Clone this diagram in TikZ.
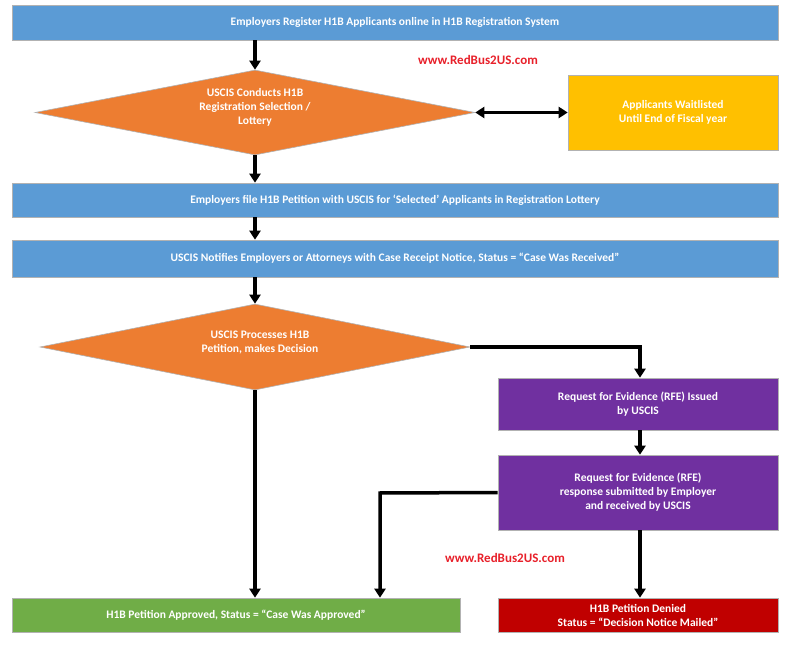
\documentclass[tikz,border=0pt]{standalone}
\usepackage{fontspec}
\setmainfont{Carlito}
\usetikzlibrary{shapes.geometric,arrows.meta}
\definecolor{cblue}{HTML}{5B9BD5}
\definecolor{corange}{HTML}{ED7D31}
\definecolor{cyellow}{HTML}{FFC000}
\definecolor{cpurple}{HTML}{7030A0}
\definecolor{cred}{HTML}{C00000}
\definecolor{cgreen}{HTML}{70AD47}
\definecolor{cwm}{HTML}{E8202A}
\begin{document}
\begin{tikzpicture}[x=1pt,y=-1pt,
  box/.style={draw=white!70!black,line width=0.6pt,text=white,font=\bfseries\fontsize{11.5}{14}\selectfont,align=center,inner sep=0pt},
  dia/.style={diamond,fill=corange,draw=white!70!black,line width=0.6pt,text=white,font=\bfseries\fontsize{11.5}{14}\selectfont,align=center,inner sep=0pt},
  con/.style={line width=3.5pt,-{Triangle[length=9pt,width=11pt]}},
  wm/.style={text=cwm,font=\bfseries\fontsize{13}{15}\selectfont}]
\useasboundingbox (0,0) rectangle (788,647);
\fill[white] (0,0) rectangle (788,647);
\node[box,fill=cblue,minimum width=766pt,minimum height=35pt] (b1) at (395,22.5) {Employers Register H1B Applicants online in H1B Registration System};
\node[dia,minimum width=440pt,minimum height=85pt] (d1) at (255,112.5) {};
\node[text=white,font=\bfseries\fontsize{11.5}{14}\selectfont,align=center] (d1t) at (255,107) {USCIS Conducts H1B\\Registration Selection /\\Lottery};
\node[box,fill=cyellow,minimum width=210pt,minimum height=75pt] (y) at (673,112.5) {Applicants Waitlisted\\Until End of Fiscal year};
\node[box,fill=cblue,minimum width=766pt,minimum height=34pt] (b2) at (395,200) {Employers file H1B Petition with USCIS for ‘Selected’ Applicants in Registration Lottery};
\node[box,fill=cblue,minimum width=766pt,minimum height=37pt] (b3) at (395,258.5) {USCIS Notifies Employers or Attorneys with Case Receipt Notice, Status = “Case Was Received”};
\node[dia,minimum width=430pt,minimum height=86pt] (d2) at (255,347) {};
\node[text=white,font=\bfseries\fontsize{11.5}{14}\selectfont,align=center] (d2t) at (260,343) {USCIS Processes H1B\\Petition, makes Decision};
\node[box,fill=cpurple,minimum width=280pt,minimum height=52pt] (p1) at (638,404) {Request for Evidence (RFE) Issued\\by USCIS};
\node[box,fill=cpurple,minimum width=280pt,minimum height=75pt] (p2) at (638,492.5) {Request for Evidence (RFE)\\response submitted by Employer\\and received by USCIS};
\node[box,fill=cred,minimum width=280pt,minimum height=34pt] (r) at (638,615) {H1B Petition Denied\\Status = “Decision Notice Mailed”};
\node[box,fill=cgreen,minimum width=448pt,minimum height=34pt] (g) at (236,615) {H1B Petition Approved, Status = “Case Was Approved"};
\node[wm] (w1) at (478,60) {www.RedBus2US.com};
\node[wm] (w2) at (505,558) {www.RedBus2US.com};
\coordinate (c1) at (640,347);
\coordinate (c2) at (380,493);
\draw[con] (b1.south -| d1) -- (d1.north);
\draw[con,{Triangle[length=9pt,width=11pt]}-{Triangle[length=9pt,width=11pt]}] (d1.east) -- (y.west);
\draw[con] (d1.south) -- (b2.north -| d1);
\draw[con] (b2.south -| d1) -- (b3.north -| d1);
\draw[con] (b3.south -| d1) -- (d2.north);
\draw[con] (d2.east) -- (c1) -- (c1 |- p1.north);
\draw[con] (p1.south -| c1) -- (p2.north -| c1);
\draw[con] (p2.south -| c1) -- (r.north -| c1);
\draw[con] (p2.west) -- (c2) -- (c2 |- g.north);
\draw[con] (d2.south) -- (g.north -| d2);
\end{tikzpicture}
\end{document}
